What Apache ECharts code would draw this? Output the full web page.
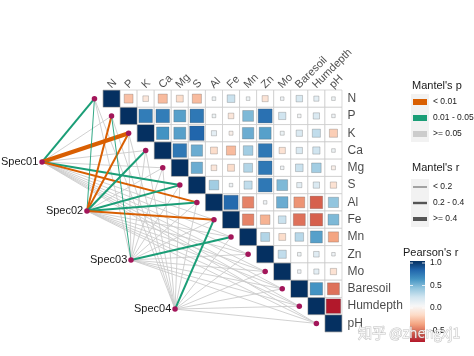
<!DOCTYPE html>
<html><head><meta charset="utf-8">
<script src="https://cdn.jsdelivr.net/npm/echarts@6/dist/echarts.min.js"></script>
<style>html,body{margin:0;padding:0;background:#fff}#c{width:474px;height:356px}</style>
</head><body><div id="c"></div>
<script>
// ---------- DATA ----------
const envVars = ['N','P','K','Ca','Mg','S','Al','Fe','Mn','Zn','Mo','Baresoil','Humdepth','pH'];
// Pearson's r, upper triangle: each row lists columns to the right of the diagonal
const corrN  = [-0.30,-0.12,-0.32,-0.18,-0.32,0.05,0.22,0.05,-0.14,0.04,0.16,0.10,0.05];
const corrP  = [0.70,0.70,0.55,0.72,0.05,-0.12,0.45,0.75,0.20,0.02,0.15,0.04];
const corrK  = [0.60,0.55,0.80,0.10,-0.06,0.50,0.55,0.06,0.15,0.25,-0.25];
const corrCa = [0.72,0.50,-0.18,-0.32,0.35,0.72,-0.15,0.15,0.20,0.05];
const corrMg = [0.50,-0.12,-0.18,0.30,0.72,0.04,0.22,0.35,-0.06];
const corrS  = [0.35,0.04,0.25,0.72,0.45,0.10,0.15,-0.15];
const corrAl = [0.78,-0.50,0.04,0.50,-0.45,-0.60,0.40];
const corrFe = [-0.50,-0.35,0.22,-0.55,-0.60,0.45];
const corrMn = [0.30,-0.18,0.28,0.55,-0.40];
const corrZn = [0.25,0.05,0.12,0.04];
const corrMo = [0.04,0.10,-0.15];
const corrBaresoil = [0.60,-0.55];
const corrHumdepth = [-0.80];
const corrpH = [];
const corrRows = [corrN,corrP,corrK,corrCa,corrMg,corrS,corrAl,corrFe,corrMn,corrZn,corrMo,corrBaresoil,corrHumdepth,corrpH];

const specNames = ['Spec01','Spec02','Spec03','Spec04'];
// Mantel r and p for each spec against N..pH
const mantelR_Spec01 = [0.25,0.10,0.45,0.08,0.10,0.25,0.22,0.10,0.08,0.10,0.05,0.10,0.08,0.06];
const mantelP_Spec01 = [0.020,0.20,0.001,0.30,0.25,0.030,0.005,0.30,0.40,0.20,0.50,0.30,0.40,0.60];
const mantelR_Spec02 = [0.15,0.25,0.30,0.22,0.10,0.25,0.25,0.28,0.10,0.08,0.05,0.10,0.05,0.06];
const mantelP_Spec02 = [0.030,0.008,0.004,0.020,0.20,0.030,0.020,0.006,0.30,0.40,0.50,0.30,0.60,0.50];
const mantelR_Spec03 = [0.05,0.15,0.10,0.08,0.10,0.05,0.10,0.08,0.22,0.05,0.10,0.08,0.05,0.06];
const mantelP_Spec03 = [0.50,0.040,0.30,0.40,0.30,0.60,0.30,0.40,0.030,0.50,0.30,0.40,0.60,0.50];
const mantelR_Spec04 = [0.05,0.08,0.10,0.05,0.06,0.10,0.12,0.22,0.08,0.10,0.05,0.10,0.06,0.05];
const mantelP_Spec04 = [0.60,0.40,0.30,0.50,0.50,0.30,0.20,0.040,0.40,0.30,0.50,0.30,0.50,0.60];
const mantelR = [mantelR_Spec01,mantelR_Spec02,mantelR_Spec03,mantelR_Spec04];
const mantelP = [mantelP_Spec01,mantelP_Spec02,mantelP_Spec03,mantelP_Spec04];

const pLegendLabels = ['< 0.01','0.01 - 0.05','>= 0.05'];
const rLegendLabels = ['< 0.2','0.2 - 0.4','>= 0.4'];
const colorbarTicks = [1.0,0.5,0.0,-0.5];

// ---------- LAYOUT / STYLE ----------
const cw = 17.07, ch = 17.29;
const gridLeft = 103 - 4*cw, gridTop = 90;
const specLayout = [[-3.57,4.16],[-0.94,7.0],[1.64,9.83],[4.22,12.67]];
const rdbu = ['#67001F','#B2182B','#D6604D','#F4A582','#FDDBC7','#F7F7F7','#D1E5F0','#92C5DE','#4393C3','#2166AC','#053061'];
const pColors = ['#D95F02','#1B9E77','#CCCCCC'];
const rWidths = [0.9,2.0,4.2];
const FONT = 'Liberation Sans, Arial, sans-serif';
function pClass(p){return p<0.01?0:(p<0.05?1:2);}
function rClass(r){return r<0.2?0:(r<0.4?1:2);}

// ---------- BUILD ----------
const n = envVars.length;
const cellData = [], sqData = [], dotData = [], rowLab = [], colLab = [];
for (let i=0;i<n;i++){
  for (let j=i;j<n;j++){
    cellData.push([j+0.5,i+0.5]);
    const r = (j===i)?1:corrRows[i][j-i-1];
    sqData.push([j+0.5,i+0.5,r]);
  }
  dotData.push([i-0.5,i+0.5]);
  rowLab.push({value:[14,i+0.5],name:envVars[i]});
  colLab.push({value:[i+0.5,0],name:envVars[i]});
}
const grayLines = [], colLines = [];
for (let s=0;s<specNames.length;s++){
  for (let i=0;i<n;i++){
    const pc = pClass(mantelP[s][i]);
    const item = {coords:[specLayout[s],[i-0.5,i+0.5]],
      lineStyle:{color:pColors[pc],width:rWidths[rClass(mantelR[s][i])],opacity:1}};
    (pc===2?grayLines:colLines).push(item);
  }
}
const specData = specNames.map((nm,s)=>({value:specLayout[s],name:nm}));

const gfx = [];
function txt(x,y,t,size,align){gfx.push({type:'text',x:x,y:y,silent:true,style:{text:t,fill:'#1a1a1a',font:size+'px '+FONT,align:align||'left',verticalAlign:'middle',textAlign:align||'left',textVerticalAlign:'middle'}});}
// Mantel's p legend
txt(412,86,"Mantel's p",11);
const keyX = 411, keyW = 18;
pLegendLabels.forEach((l,k)=>{
  const y = 102 + k*16;
  gfx.push({type:'rect',silent:true,shape:{x:keyX,y:y-8,width:keyW,height:16},style:{fill:'#F2F2F2'}});
  gfx.push({type:'rect',silent:true,shape:{x:keyX+2,y:y-3,width:keyW-4,height:6},style:{fill:pColors[k]}});
  txt(433,y,l,8.5);
});
// Mantel's r legend
txt(412,168,"Mantel's r",11);
rLegendLabels.forEach((l,k)=>{
  const y = 187 + k*16;
  gfx.push({type:'rect',silent:true,shape:{x:keyX,y:y-8,width:keyW,height:16},style:{fill:'#F2F2F2'}});
  gfx.push({type:'line',silent:true,shape:{x1:keyX+2,y1:y,x2:keyX+keyW-2,y2:y},style:{stroke:'#555',lineWidth:[1,2.4,4][k]}});
  txt(433,y,l,8.5);
});
// Pearson's r colorbar
txt(403,253,"Pearson's r",11);
const cbTop = 261, cbMax = 1.0, cbMin = -0.8, pxPerUnit = 45;
const cbBot = cbTop + (cbMax-cbMin)*pxPerUnit;
const stops = [];
for (let k=0;k<=9;k++){
  const v = 1 - k*0.2;
  stops.push({offset:(cbMax-v)/(cbMax-cbMin),color:rdbu[Math.round((v+1)/0.2)]});
}
gfx.push({type:'rect',silent:true,shape:{x:410,y:cbTop,width:15,height:cbBot-cbTop},
  style:{fill:new echarts.graphic.LinearGradient(0,0,0,1,stops)}});
colorbarTicks.forEach(v=>{
  const y = cbTop + (cbMax-v)*pxPerUnit + 2;
  gfx.push({type:'line',silent:true,shape:{x1:410,y1:y,x2:413,y2:y},style:{stroke:'#fff',lineWidth:0.8}});
  gfx.push({type:'line',silent:true,shape:{x1:422,y1:y,x2:425,y2:y},style:{stroke:'#fff',lineWidth:0.8}});
  txt(430,y,v.toFixed(1),8.5);
});
// watermark
gfx.push({type:'text',x:358,y:333,silent:true,z:100,style:{text:'知乎 @zhengxj1',font:'14px "Noto Sans CJK SC", sans-serif',fill:'rgba(255,255,255,0.85)',stroke:'rgba(120,120,120,0.45)',lineWidth:1,verticalAlign:'middle',textVerticalAlign:'middle'}});

const chart = echarts.init(document.getElementById('c'),null,{renderer:'canvas'});
chart.setOption({
  animation:false,
  backgroundColor:'#fff',
  grid:{left:gridLeft,top:gridTop,width:18*cw,height:14*ch,containLabel:false},
  xAxis:{type:'value',min:-4,max:14,show:false},
  yAxis:{type:'value',min:0,max:14,inverse:true,show:false},
  visualMap:{show:false,type:'continuous',seriesIndex:3,dimension:2,min:-1,max:1,inRange:{color:rdbu}},
  series:[
    {type:'scatter',silent:true,clip:false,z:1,symbol:'rect',symbolSize:[cw,ch],data:cellData,
      itemStyle:{color:'#fff',borderColor:'#C8C8C8',borderWidth:0.7,opacity:1}},
    {type:'lines',coordinateSystem:'cartesian2d',silent:true,clip:false,z:2,polyline:false,data:grayLines,lineStyle:{opacity:1,curveness:0}},
    {type:'lines',coordinateSystem:'cartesian2d',silent:true,clip:false,z:3,polyline:false,data:colLines,lineStyle:{opacity:1,curveness:0}},
    {type:'scatter',silent:true,clip:false,z:4,symbol:'rect',data:sqData,
      symbolSize:function(v){const a=Math.abs(v[2]);return v[2]===1?16.6:Math.max(3.5,Math.sqrt(a)*16.2);},
      itemStyle:{borderColor:'rgba(80,80,80,0.45)',borderWidth:0.6,opacity:1}},
    {type:'scatter',silent:true,clip:false,z:5,symbol:'circle',symbolSize:5.5,data:dotData,itemStyle:{color:'#A3165A',opacity:1}},
    {type:'scatter',silent:true,clip:false,z:5,symbol:'circle',symbolSize:5.5,data:specData,itemStyle:{color:'#A3165A',opacity:1},
      label:{show:true,position:'left',distance:1,formatter:'{b}',color:'#1a1a1a',fontSize:11,fontFamily:FONT}},
    {type:'scatter',silent:true,clip:false,z:5,symbolSize:1,data:rowLab,itemStyle:{color:'rgba(0,0,0,0)'},
      label:{show:true,position:'right',distance:5,formatter:'{b}',color:'#1a1a1a',fontSize:12,fontFamily:FONT}},
    {type:'scatter',silent:true,clip:false,z:5,symbolSize:1,data:colLab,itemStyle:{color:'rgba(0,0,0,0)'},
      label:{show:true,position:'top',distance:5,rotate:45,align:'left',verticalAlign:'middle',offset:[-3,0],formatter:'{b}',color:'#1a1a1a',fontSize:11,fontFamily:FONT}}
  ],
  graphic:gfx
});
</script></body></html>
